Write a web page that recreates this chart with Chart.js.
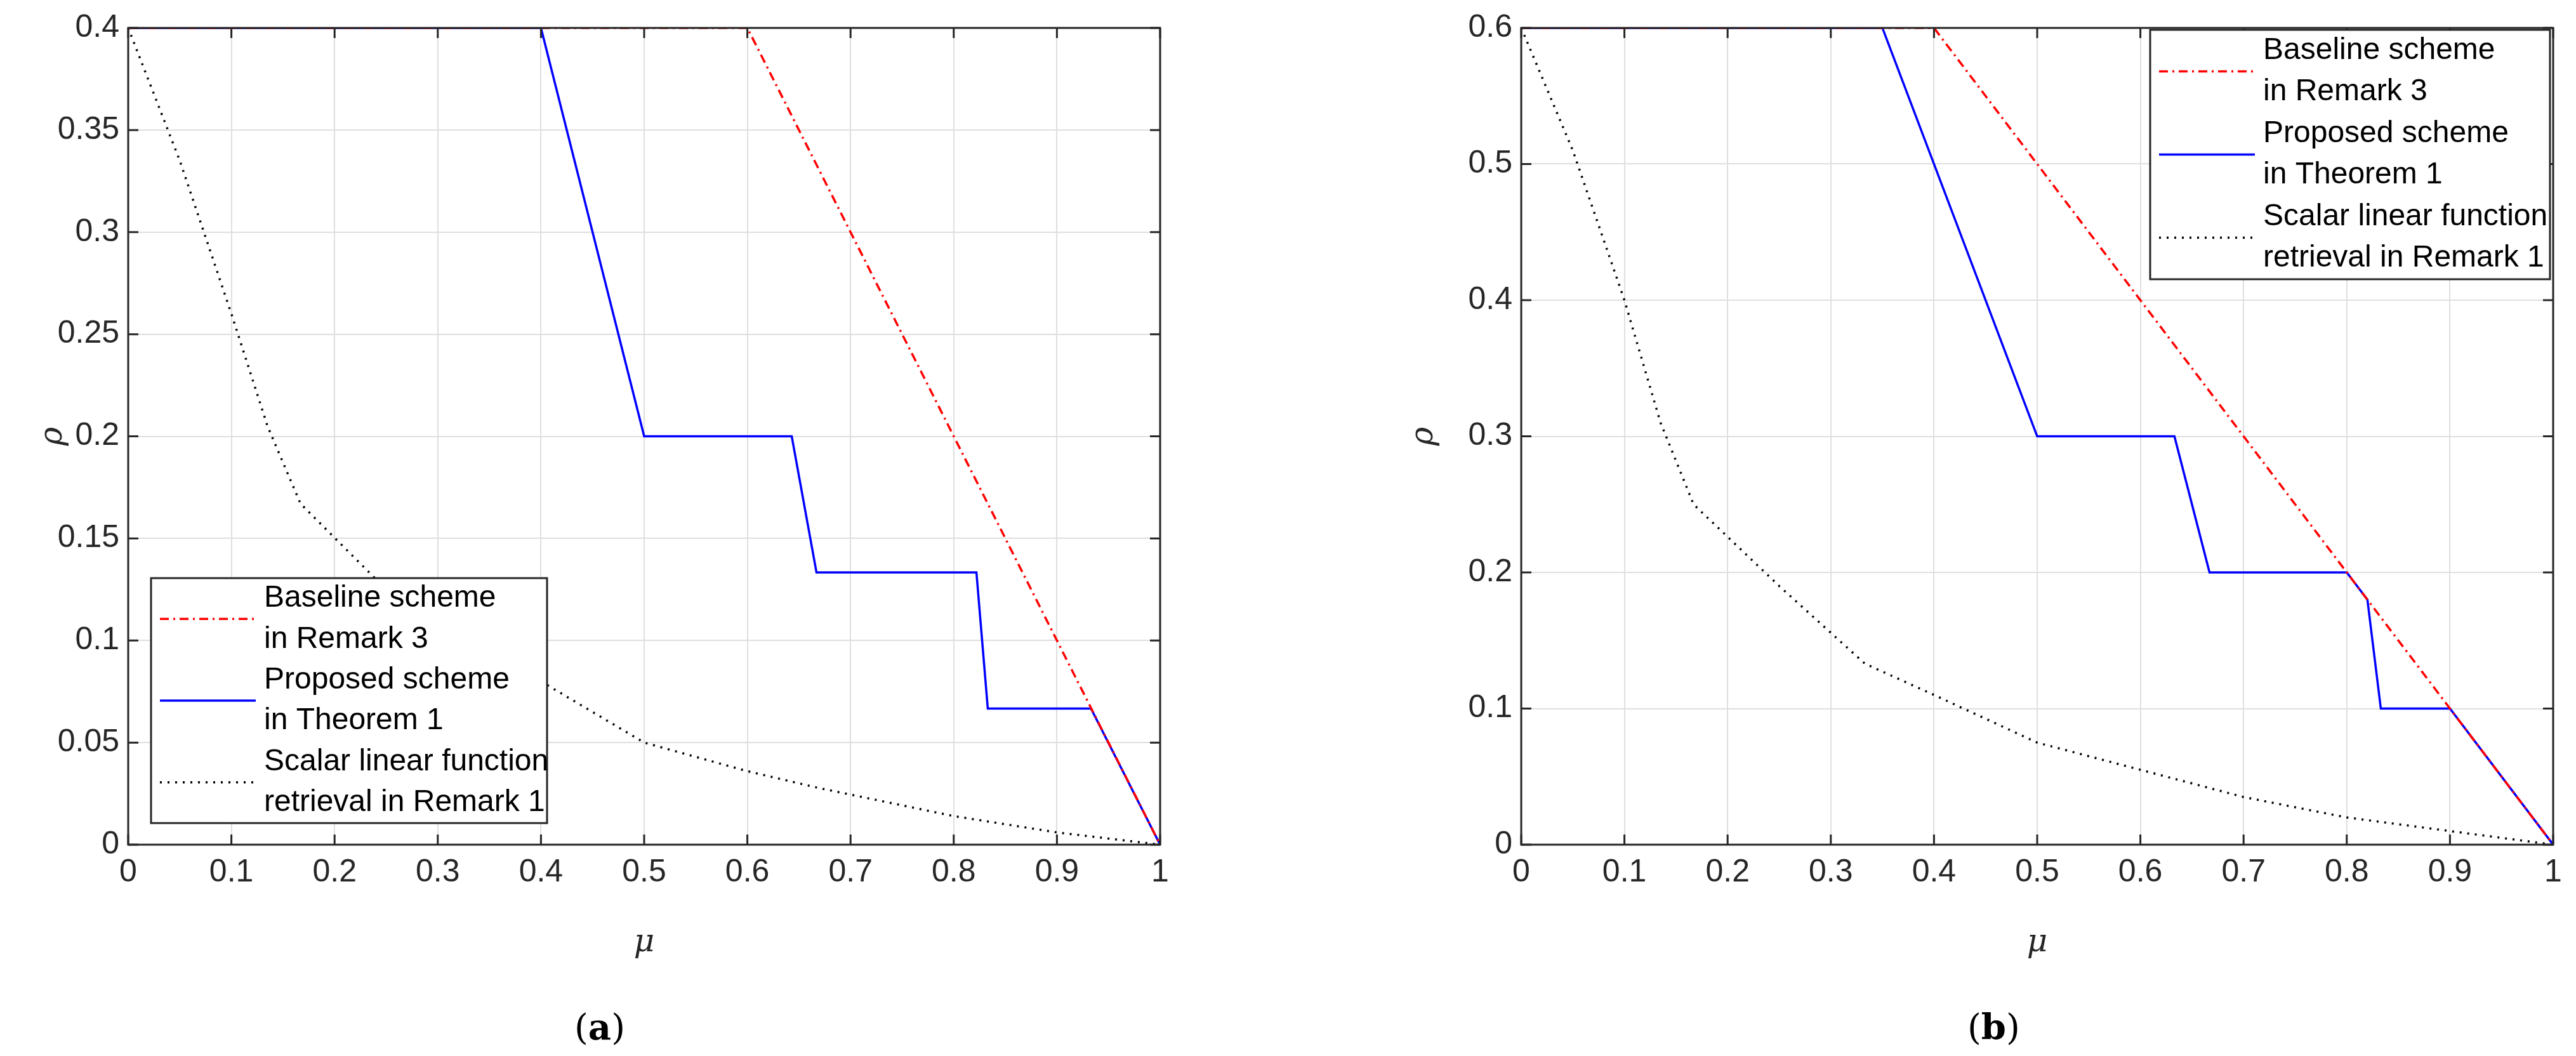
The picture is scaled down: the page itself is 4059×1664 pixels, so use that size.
<!DOCTYPE html>
<html><head><meta charset="utf-8">
<script src="https://cdn.jsdelivr.net/npm/chart.js@4/dist/chart.umd.min.js"></script>
<style>
body{margin:0;background:#fff;width:4059px;height:1664px;position:relative;overflow:hidden}
.c{position:absolute;top:0}
.lab{position:absolute;top:1585px;font-family:"DejaVu Serif","Liberation Serif",serif;font-size:56px;color:#000}
</style></head><body>
<div class="c" style="left:0;width:2000px;height:1520px"><canvas id="a"></canvas></div>
<div class="c" style="left:2050px;width:2009px;height:1520px"><canvas id="b"></canvas></div>
<div class="lab" style="left:905px">(<b>a</b>)</div>
<div class="lab" style="left:3100px">(<b>b</b>)</div>
<script>
const xTicks=[0,0.1,0.2,0.3,0.4,0.5,0.6,0.7,0.8,0.9,1];
const yTicksA=[0,0.05,0.1,0.15,0.2,0.25,0.3,0.35,0.4];
const yTicksB=[0,0.1,0.2,0.3,0.4,0.5,0.6];
const legendLabels=[["Baseline scheme","in Remark 3"],["Proposed scheme","in Theorem 1"],["Scalar linear function","retrieval in Remark 1"]];
// Chart (a)
const baseA_x=[0,0.6,1], baseA_y=[0.4,0.4,0];
const propA_x=[0,0.4,0.5,0.643,0.667,0.822,0.833,0.933,1];
const propA_y=[0.4,0.4,0.2,0.2,0.1333,0.1333,0.0667,0.0667,0];
const scalA_x=[0,0.05,0.1,0.135,0.167,0.25,0.333,0.4,0.5,0.6,0.667,0.8,0.9,1];
const scalA_y=[0.4,0.335,0.26,0.205,0.167,0.125,0.1,0.08,0.05,0.036,0.028,0.014,0.006,0];
// Chart (b)
const baseB_x=[0,0.4,1], baseB_y=[0.6,0.6,0];
const propB_x=[0,0.35,0.5,0.633,0.667,0.8,0.82,0.833,0.9,1];
const propB_y=[0.6,0.6,0.3,0.3,0.2,0.2,0.18,0.1,0.1,0];
const scalB_x=[0,0.05,0.1,0.135,0.167,0.25,0.333,0.4,0.5,0.6,0.7,0.8,0.9,1];
const scalB_y=[0.6,0.51,0.4,0.31,0.25,0.19,0.133,0.11,0.075,0.055,0.035,0.02,0.01,0];

const zip=(xs,ys)=>xs.map((x,i)=>({x,y:ys[i]}));
const FONT='"Liberation Sans Narrow","Liberation Sans",Arial,sans-serif';
const styles=[{c:'#ff0000',d:[14,7,3,7]},{c:'#0000ff',d:[]},{c:'#000000',d:[3,9]}];

function make(id,xs,ys,yTicks,ymax,padL,yAxisW,padR,legBox){
  const data=[[xs[0],ys[0]],[xs[1],ys[1]],[xs[2],ys[2]]];
  const legendPlugin={id:'leg'+id,afterDatasetsDraw(ch){
    const c=ch.ctx,[x0,y0,x1,y1]=legBox;
    c.save();
    const a=ch.chartArea,sx=ch.scales.x,sy=ch.scales.y;
    c.strokeStyle='#262626';c.lineWidth=3;c.setLineDash([]);
    xTicks.forEach(t=>{const p=sx.getPixelForValue(t);c.beginPath();c.moveTo(p,a.bottom);c.lineTo(p,a.bottom-16);c.moveTo(p,a.top);c.lineTo(p,a.top+16);c.stroke();});
    yTicks.forEach(t=>{const p=sy.getPixelForValue(t);c.beginPath();c.moveTo(a.left,p);c.lineTo(a.left+16,p);c.moveTo(a.right,p);c.lineTo(a.right-16,p);c.stroke();});
    c.strokeRect(a.left,a.top,a.right-a.left,a.bottom-a.top);
    c.fillStyle='#fff';c.fillRect(x0,y0,x1-x0,y1-y0);
    c.strokeStyle='#262626';c.lineWidth=3;c.strokeRect(x0,y0,x1-x0,y1-y0);
    const h=(y1-y0)/3;
    c.font='48px '+FONT;c.fillStyle='#000';c.textBaseline='middle';
    legendLabels.forEach((L,i)=>{
      const cy=y0+h*i+h/2;
      c.strokeStyle=styles[i].c;c.lineWidth=3.5;c.setLineDash(styles[i].d);
      c.beginPath();c.moveTo(x0+14,cy);c.lineTo(x0+165,cy);c.stroke();
      c.fillText(L[0],x0+178,cy-h*0.25);c.fillText(L[1],x0+178,cy+h*0.25);
    });
    c.restore();
  }};
  new Chart(document.getElementById(id),{
    type:'scatter',
    data:{datasets:data.map((d,i)=>({label:legendLabels[i].join(' '),data:zip(d[0],d[1]),showLine:true,
      borderColor:styles[i].c,borderDash:styles[i].d,borderWidth:3.5,pointRadius:0,tension:0}))},
    options:{responsive:true,maintainAspectRatio:false,animation:false,
      layout:{padding:{top:41,right:padR,left:padL,bottom:0}},
      plugins:{legend:{display:false},tooltip:{enabled:false}},
      scales:{
        x:{type:'linear',min:0,max:1,afterFit(s){s.height=189;},
          afterBuildTicks(s){s.ticks=xTicks.map(v=>({value:v}));},
          ticks:{font:{size:50,family:FONT},color:'#262626',padding:14,maxRotation:0,callback:v=>String(v)},
          grid:{color:'#dfdfdf',lineWidth:2,drawTicks:false},border:{display:false},
          title:{display:true,text:'μ',font:{size:50,family:'"DejaVu Serif",serif',style:'italic'},color:'#262626',padding:{top:14}}},
        y:{type:'linear',min:0,max:ymax,afterFit(s){s.width=yAxisW;},
          afterBuildTicks(s){s.ticks=yTicks.map(v=>({value:v}));},
          ticks:{font:{size:50,family:FONT},color:'#262626',padding:14,callback:v=>String(v)},
          grid:{color:'#dfdfdf',lineWidth:2,drawTicks:false},border:{display:false},
          title:{display:true,text:'ρ',font:{size:50,family:'"DejaVu Serif",serif',style:'italic'},color:'#262626',padding:{bottom:0}}}
      }},
    plugins:[legendPlugin]
  });
}
make('a',[baseA_x,propA_x,scalA_x],[baseA_y,propA_y,scalA_y],yTicksA,0.4,50,152,172,[238,911,862,1297]);
make('b',[baseB_x,propB_x,scalB_x],[baseB_y,propB_y,scalB_y],yTicksB,0.6,160,187,36,[1338,47,1968,440]);
</script></body></html>
